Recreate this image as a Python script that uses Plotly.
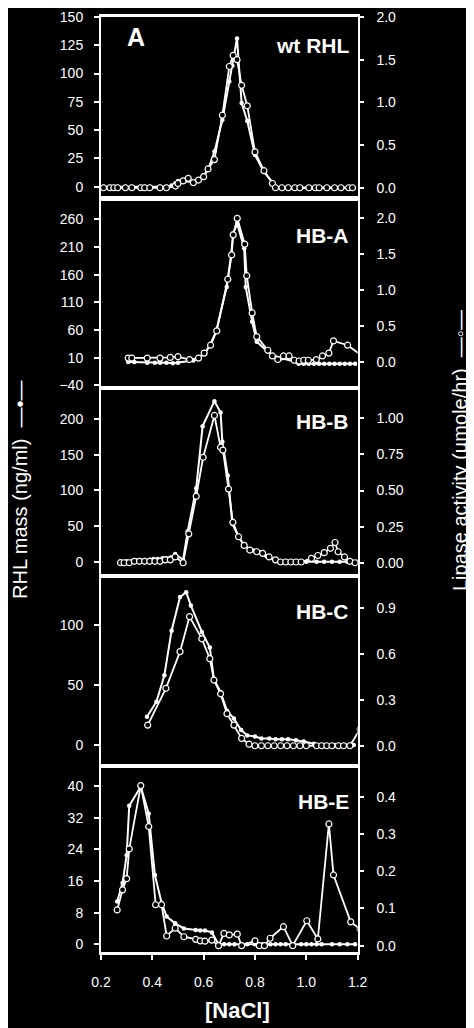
import plotly.graph_objects as go
from plotly.subplots import make_subplots

# ---- data ----
panel_names = ["wt RHL", "HB-A", "HB-B", "HB-C", "HB-E"]

# wt RHL
nacl_wt_mass = [0.21, 0.235, 0.25, 0.265, 0.295, 0.32, 0.355, 0.37, 0.39, 0.43, 0.455, 0.475, 0.49, 0.50,
                0.52, 0.56, 0.58, 0.60, 0.617, 0.642, 0.673, 0.70, 0.712, 0.73, 0.748, 0.77, 0.80, 0.835,
                0.868, 0.88, 0.905, 0.93, 0.955, 0.975, 1.01, 1.035, 1.05, 1.08, 1.11, 1.135, 1.165, 1.18]
mass_wt = [0, 0, 0, 0, 0, 0, 0, 0, 0, 0, 0, 1, 3, 5,
           5, 4, 6, 10, 15, 31, 59, 93, 107, 131, 74, 58, 28, 13,
           4, 0, -1, -1, -1, -1, -1, -1, -1, -1, -1, -1, -1, -1]
nacl_wt_lip = [0.21, 0.235, 0.25, 0.265, 0.295, 0.32, 0.355, 0.37, 0.39, 0.43, 0.455, 0.49, 0.50, 0.52,
               0.54, 0.56, 0.58, 0.60, 0.617, 0.642, 0.673, 0.70, 0.715, 0.73, 0.748, 0.77, 0.80, 0.835,
               0.868, 0.88, 0.905, 0.93, 0.955, 0.975, 1.01, 1.035, 1.05, 1.08, 1.11, 1.135, 1.165, 1.18]
lip_wt = [0, 0, 0, 0, 0, 0, 0, 0, 0, 0, 0, 0.02, 0.05, 0.08,
          0.11, 0.06, 0.09, 0.13, 0.22, 0.33, 0.85, 1.42, 1.55, 1.5, 1.2, 0.96, 0.42, 0.2,
          0.05, 0, 0, 0, 0, 0, 0, 0, 0, 0, 0, 0, 0, 0]

# HB-A
nacl_a_mass = [0.306, 0.33, 0.38, 0.41, 0.43, 0.455, 0.48, 0.50, 0.56, 0.58, 0.605, 0.624, 0.648,
               0.69, 0.707, 0.715, 0.731, 0.758, 0.764, 0.789, 0.807, 0.85, 0.868, 0.905, 0.953,
               0.97, 0.99, 1.01, 1.03, 1.05, 1.07, 1.09, 1.11, 1.13, 1.15, 1.17, 1.19]
mass_a = [2, 2, 1, 1, 1, 1, 0, 1, 5, 10, 18, 32, 57,
          138, 196, 235, 252, 208, 138, 75, 39, 21, 15, 9, 3,
          -1, -1, -1, -1, -1, -1, -1, -1, -1, -1, -1, -1]
nacl_a_lip = [0.306, 0.32, 0.38, 0.43, 0.47, 0.50, 0.545, 0.58, 0.602, 0.627, 0.651, 0.694, 0.709,
              0.715, 0.731, 0.76, 0.768, 0.789, 0.807, 0.85, 0.868, 0.889, 0.911, 0.933, 0.953,
              0.972, 0.99, 1.008, 1.039, 1.063, 1.088, 1.106, 1.161, 1.23]
lip_a = [0.05, 0.05, 0.05, 0.05, 0.06, 0.07, 0.03, 0.05, 0.12, 0.23, 0.43, 1.15, 1.49,
         1.77, 2.0, 1.64, 1.2, 0.68, 0.35, 0.16, 0.08, 0.03, 0.08, 0.08, 0.02,
         0.01, 0.02, 0.02, 0.03, 0.08, 0.12, 0.29, 0.23, 0.05]

# HB-B
nacl_b_mass = [0.276, 0.30, 0.32, 0.337, 0.355, 0.37, 0.39, 0.404, 0.42, 0.44, 0.455, 0.471, 0.489,
               0.52, 0.538, 0.571, 0.596, 0.642, 0.666, 0.673, 0.694, 0.712, 0.734, 0.758, 0.78,
               0.795, 0.82, 0.845, 0.88, 0.92, 0.96, 1.00, 1.04, 1.07, 1.10, 1.13, 1.16, 1.20]
mass_b = [1, 1, 1, 2, 2, 2, 3, 4, 4, 5, 5, 6, 11,
          3, 43, 103, 190, 225, 209, 168, 121, 53, 37, 23, 18,
          16, 13, 8, 2, 0, 0, 0, 0, 0, 0, 0, 0, 0]
nacl_b_lip = [0.276, 0.29, 0.31, 0.33, 0.35, 0.37, 0.39, 0.41, 0.43, 0.45, 0.47, 0.489, 0.52, 0.542,
              0.571, 0.598, 0.642, 0.666, 0.675, 0.697, 0.714, 0.736, 0.758, 0.78, 0.807, 0.83,
              0.855, 0.88, 0.90, 0.92, 0.94, 0.96, 0.98, 1.02, 1.045, 1.07, 1.094, 1.112, 1.124,
              1.149, 1.17, 1.19]
lip_b = [0, 0, 0, 0.01, 0.01, 0.01, 0.01, 0.01, 0.01, 0.02, 0.02, 0.04, 0.0, 0.2,
         0.46, 0.73, 1.02, 0.8, 0.78, 0.51, 0.28, 0.18, 0.12, 0.088, 0.076, 0.065,
         0.04, 0.02, 0.005, 0.005, 0.005, 0.005, 0.005, 0.03, 0.05, 0.07, 0.1, 0.14, 0.076,
         0.04, 0.01, 0.0]

# HB-C
nacl_c_mass = [0.379, 0.416, 0.447, 0.475, 0.508, 0.532, 0.55, 0.593, 0.624, 0.64, 0.666, 0.691,
               0.718, 0.746, 0.77, 0.80, 0.825, 0.856, 0.88, 0.905, 0.929, 0.96, 0.99, 1.03, 1.07,
               1.11, 1.15, 1.185]
mass_c = [23.5, 36, 58, 95, 123, 127, 116, 94, 81, 55, 44, 28.5,
          22, 12.5, 8, 7, 5.5, 5.5, 4.7, 4.7, 4.7, 4, 3, 1, 0,
          0, 0, 0]
nacl_c_lip = [0.382, 0.453, 0.508, 0.545, 0.593, 0.624, 0.64, 0.666, 0.691, 0.718, 0.748, 0.777,
              0.80, 0.825, 0.85, 0.875, 0.90, 0.925, 0.95, 0.975, 1.00, 1.04, 1.06, 1.08, 1.10,
              1.125, 1.145, 1.17, 1.21]
lip_c = [0.135, 0.376, 0.616, 0.845, 0.70, 0.57, 0.43, 0.34, 0.21, 0.135, 0.048, 0.01,
         0, 0, 0, 0, 0, 0, 0, 0, 0, 0, 0, 0, 0,
         0, 0, 0, 0.11]

# HB-E
nacl_e_mass = [0.263, 0.284, 0.30, 0.31, 0.355, 0.386, 0.41, 0.436, 0.456, 0.489, 0.523, 0.569,
               0.587, 0.605, 0.632, 0.658, 0.68, 0.70, 0.72, 0.745, 0.77, 0.80, 0.83, 0.86, 0.88,
               0.90, 0.92, 0.95, 0.98, 1.00, 1.02, 1.04, 1.06, 1.10, 1.13, 1.16, 1.19]
mass_e = [10.8, 15.5, 22.5, 35, 39.8, 33, 17.5, 10.5, 7, 5.3, 4, 3.6,
          3.5, 3.5, 3, 0, 0, 0, 0, 0, 0, 0, 0, 0, 0,
          0, 0, 0, 0, 0, 0, 0, 0, 0, 0, 0, 0]
nacl_e_lip = [0.263, 0.284, 0.30, 0.31, 0.355, 0.386, 0.413, 0.436, 0.456, 0.489, 0.523, 0.569,
              0.587, 0.605, 0.632, 0.658, 0.679, 0.70, 0.731, 0.748, 0.80, 0.817, 0.837, 0.859,
              0.911, 0.947, 1.002, 1.045, 1.088, 1.106, 1.173, 1.21]
lip_e = [0.096, 0.15, 0.18, 0.26, 0.43, 0.32, 0.11, 0.11, 0.026, 0.047, 0.024, 0.017,
         0.013, 0.012, 0.015, 0.0, 0.033, 0.029, 0.031, 0.0, 0.013, 0.0, 0.0, 0.02,
         0.051, 0.0, 0.067, 0.018, 0.327, 0.19, 0.064, 0.045]

# tick values
mass_ticks = [[0, 25, 50, 75, 100, 125, 150],
              [-40, 10, 60, 110, 160, 210, 260],
              [0, 50, 100, 150, 200],
              [0, 50, 100],
              [0, 8, 16, 24, 32, 40]]
lip_ticks = [[0.0, 0.5, 1.0, 1.5, 2.0],
             [0.0, 0.5, 1.0, 1.5, 2.0],
             [0.0, 0.25, 0.5, 0.75, 1.0],
             [0.0, 0.3, 0.6, 0.9],
             [0.0, 0.1, 0.2, 0.3, 0.4]]
nacl_ticks = [0.2, 0.4, 0.6, 0.8, 1.0, 1.2]

mass_series = [(nacl_wt_mass, mass_wt), (nacl_a_mass, mass_a), (nacl_b_mass, mass_b),
               (nacl_c_mass, mass_c), (nacl_e_mass, mass_e)]
lip_series = [(nacl_wt_lip, lip_wt), (nacl_a_lip, lip_a), (nacl_b_lip, lip_b),
              (nacl_c_lip, lip_c), (nacl_e_lip, lip_e)]

# ---- layout ----
# positions below are page pixels of the reference; the page body adds an 8px margin
OFF = 8
W, H = 474 - OFF, 1028 - OFF
PLOT_L, PLOT_R, PLOT_T, PLOT_B = 101, 374, 17, 952
ML, MR = PLOT_L - OFF, W - (PLOT_R - OFF)
MT, MB = PLOT_T - OFF, H - (PLOT_B - OFF)
frames = [(17, 198), (199, 387), (389, 574), (578, 765), (767, 952)]
mass_ranges = [[-10, 150], [-43, 297], [-17, 242], [-16.6, 138.8], [-1.95, 44.8]]
lip_ranges = [[-0.12, 2.0], [-0.353, 2.27], [-0.078, 1.203], [-0.126, 1.098], [-0.017, 0.48]]
lip_fmt = [".1f", ".1f", ".2f", ".1f", ".1f"]
label_y = [46, 235.7, 421, 611, 801.7]


def py(p):
    return (PLOT_B - p) / (PLOT_B - PLOT_T)


def px(p):
    return (p - PLOT_L) / (PLOT_R - PLOT_L)


FONT = "Liberation Sans, Arial, sans-serif"
TICKFONT = dict(family=FONT, size=14, color="white")

fig = make_subplots(rows=5, cols=1, specs=[[{"secondary_y": True}] for _ in range(5)])

for i in range(5):
    r = i + 1
    fig.add_trace(go.Scatter(x=mass_series[i][0], y=mass_series[i][1], mode="lines+markers",
                             line=dict(color="white", width=2),
                             marker=dict(symbol="circle", size=4.5, color="white"),
                             showlegend=False),
                  row=r, col=1, secondary_y=False)
    fig.add_trace(go.Scatter(x=lip_series[i][0], y=lip_series[i][1], mode="lines+markers",
                             line=dict(color="white", width=1.8),
                             marker=dict(symbol="circle", size=6, color="black",
                                         line=dict(color="white", width=1.2)),
                             showlegend=False),
                  row=r, col=1, secondary_y=True)

    top, bottom = frames[i]
    fig.update_yaxes(domain=[py(bottom), py(top)], range=mass_ranges[i],
                     tickvals=mass_ticks[i], ticks="outside", ticklen=5, tickwidth=1.5,
                     tickcolor="white", showline=True, linecolor="white", linewidth=2,
                     mirror=True, showgrid=False, zeroline=False, ticklabelstandoff=8,
                     ticklabeloverflow="allow", automargin=False,
                     tickfont=TICKFONT, row=r, col=1, secondary_y=False)
    fig.update_yaxes(range=lip_ranges[i], tickvals=lip_ticks[i], tickformat=lip_fmt[i],
                     ticks="outside", ticklen=5, tickwidth=1.5, tickcolor="white",
                     showline=False, showgrid=False, zeroline=False, ticklabelstandoff=10,
                     ticklabeloverflow="allow", automargin=False,
                     tickfont=TICKFONT, row=r, col=1, secondary_y=True)
    fig.update_xaxes(range=[0.2, 1.2], showline=True, linecolor="white", linewidth=2.5,
                     mirror=True, showgrid=False, zeroline=False,
                     tickvals=nacl_ticks, tickformat=".1f",
                     ticks="outside" if r == 5 else "", ticklen=5, tickwidth=1.5,
                     tickcolor="white", showticklabels=(r == 5), ticklabelstandoff=10,
                     ticklabeloverflow="allow", automargin=False,
                     tickfont=TICKFONT, row=r, col=1)

    fig.add_annotation(text="<b>%s</b>" % panel_names[i], xref="paper", yref="paper",
                       x=px(351), y=py(label_y[i]), xanchor="right", yanchor="middle",
                       showarrow=False, font=dict(family=FONT, size=21, color="white"))

fig.add_annotation(text="<b>A</b>", xref="paper", yref="paper", x=px(136), y=py(37),
                   xanchor="center", yanchor="middle", showarrow=False,
                   font=dict(family=FONT, size=25, color="white"))
fig.add_annotation(text="RHL mass (ng/ml)  —•—", xref="paper", yref="paper",
                   x=px(20), y=py(490), textangle=-90, xanchor="center", yanchor="middle",
                   showarrow=False, font=dict(family=FONT, size=20, color="white"))
fig.add_annotation(text="Lipase activity (µmole/hr)  —◦—", xref="paper", yref="paper",
                   x=px(460), y=py(451), textangle=-90, xanchor="center", yanchor="middle",
                   showarrow=False, font=dict(family=FONT, size=20, color="white"))
fig.add_annotation(text="<b>[NaCl]</b>", xref="paper", yref="paper",
                   x=0.5, y=py(1011), xanchor="center", yanchor="middle",
                   showarrow=False, font=dict(family=FONT, size=22, color="white"))

fig.update_layout(width=W, height=H, margin=dict(l=ML, r=MR, t=MT, b=MB),
                  paper_bgcolor="black", plot_bgcolor="black", showlegend=False,
                  font=dict(family=FONT, color="white"))

fig.write_html("out.html")
